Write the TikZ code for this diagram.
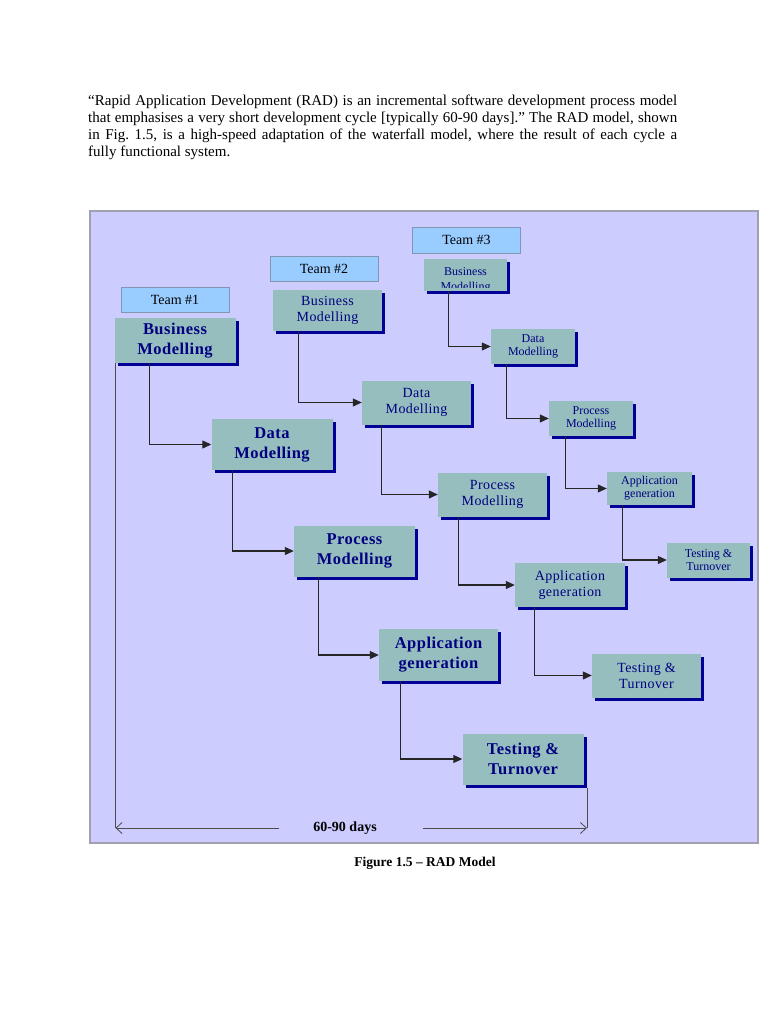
\documentclass[tikz,border=0pt]{standalone}
\usepackage{fontspec}
\setmainfont{Liberation Serif}
\usepackage{tikz}
\usetikzlibrary{shapes, arrows, arrows.meta, shadows}
\definecolor{panelfill}{RGB}{204,204,255}
\definecolor{paneledge}{RGB}{160,160,176}
\definecolor{boxfill}{RGB}{150,190,190}
\definecolor{boxshadow}{RGB}{0,0,150}
\definecolor{boxtext}{RGB}{0,0,128}
\definecolor{teamfill}{RGB}{153,204,255}
\definecolor{teamedge}{RGB}{130,150,180}
\tikzstyle{phaseone} = [rectangle, fill=boxfill, text=boxtext, align=center, inner sep=0pt, minimum width=121pt, minimum height=51pt, font=\fontsize{16.5}{20}\selectfont\bfseries\addfontfeature{LetterSpace=3}, general shadow={fill=boxshadow, shadow xshift=3pt, shadow yshift=-3pt}]
\tikzstyle{phasetwo} = [rectangle, fill=boxfill, text=boxtext, align=center, inner sep=0pt, minimum width=109pt, minimum height=44pt, font=\fontsize{14}{16}\selectfont\addfontfeature{LetterSpace=3}, general shadow={fill=boxshadow, shadow xshift=3pt, shadow yshift=-3pt}]
\tikzstyle{phasethree} = [rectangle, fill=boxfill, text=boxtext, align=center, inner sep=0pt, minimum width=84pt, minimum height=35pt, font=\fontsize{12}{13}\selectfont, general shadow={fill=boxshadow, shadow xshift=3pt, shadow yshift=-3pt}]
\tikzstyle{phasethreetext} = [text=boxtext, align=center, inner sep=0pt, font=\fontsize{12}{15}\selectfont]
\tikzstyle{teamlabel} = [rectangle, fill=teamfill, draw=teamedge, line width=0.7pt, minimum width=108pt, minimum height=25pt, inner sep=0pt, font=\fontsize{14}{15}\selectfont]
\tikzstyle{connector} = [draw, color=black!85, line width=1.1pt, -{Triangle[length=9pt, width=8pt]}]
\tikzstyle{dimline} = [draw, color=black!70, line width=0.8pt]
\tikzstyle{dimarrow} = [dimline, -{Straight Barb[length=6pt, width=11pt]}]

\begin{document}
\begin{tikzpicture}[x=1pt, y=-1pt]
\useasboundingbox (0,0) rectangle (768,1024);
\fill[white] (0,0) rectangle (768,1024);

\node [anchor=north west, text width=589pt, align=justify, inner sep=0pt, font=\fontsize{15}{17}\selectfont\frenchspacing] at (88,95) (intro) {“Rapid Application Development (RAD) is an incremental software development process model\linebreak that emphasises a very short development cycle [typically 60-90 days].” The RAD model, shown\linebreak in Fig. 1.5, is a high-speed adaptation of the waterfall model, where the result of each cycle a\linebreak fully functional system.};

% panel
\draw [fill=panelfill, draw=paneledge, line width=1.2pt] (90,211) rectangle (758,843);

% team labels
\node [teamlabel] at (175,299.5) (team1) {Team \#1};
\node [teamlabel] at (324,269) (team2) {Team \#2};
\node [teamlabel, minimum height=26pt] at (466.5,240) (team3) {Team \#3};

% team 1
\node [phaseone, minimum height=45pt] at (175,340.5) (bm1) {Business\\Modelling};
\node [phaseone] at (272,444.5) (dm1) {Data\\Modelling};
\node [phaseone] at (354.5,551) (pm1) {Process\\Modelling};
\node [phaseone, minimum width=119pt, minimum height=52pt] at (438.5,655) (ag1) {Application\\generation};
\node [phaseone] at (523,759) (tt1) {Testing \&\\Turnover};

% team 2
\node [phasetwo, minimum height=41pt] at (327.5,310.5) (bm2) {Business\\Modelling};
\node [phasetwo] at (416.5,402.5) (dm2) {Data\\Modelling};
\node [phasetwo] at (492.5,494.5) (pm2) {Process\\Modelling};
\node [phasetwo, minimum width=110pt] at (570,585) (ag2) {Application\\generation};
\node [phasetwo] at (646.5,675.5) (tt2) {Testing \&\\Turnover};

% team 3
\node [phasethree, minimum width=83pt, minimum height=32pt] at (465.5,275) (bm3) {};
\begin{scope}
\clip ([yshift=3.5pt]bm3.south west) rectangle (bm3.north east);
\node [phasethreetext, anchor=north] at (465.5,267) (bm3text) {Business\\Modelling};
\end{scope}
\node [phasethree] at (533,346.5) (dm3) {Data\\Modelling};
\node [phasethree] at (591,418.5) (pm3) {Process\\Modelling};
\node [phasethree, minimum width=85pt, minimum height=33pt] at (649.5,488.5) (ag3) {Application\\generation};
\node [phasethree, minimum width=83pt] at (708.5,560) (tt3) {Testing \&\\Turnover};

\path [connector] ([xshift=35pt]bm1.south west) |- (dm1.west);
\path [connector] ([xshift=21pt]dm1.south west) |- (pm1.west);
\path [connector] ([xshift=25pt]pm1.south west) |- (ag1.west);
\path [connector] ([xshift=22pt]ag1.south west) |- (tt1.west);

\path [connector] ([xshift=26pt]bm2.south west) |- (dm2.west);
\path [connector] ([xshift=20pt]dm2.south west) |- (pm2.west);
\path [connector] ([xshift=20.5pt]pm2.south west) |- (ag2.west);
\path [connector] ([xshift=20pt]ag2.south west) |- (tt2.west);

\path [connector] ([xshift=24.5pt]bm3.south west) |- (dm3.west);
\path [connector] ([xshift=16pt]dm3.south west) |- (pm3.west);
\path [connector] ([xshift=16.5pt]pm3.south west) |- (ag3.west);
\path [connector] ([xshift=15.5pt]ag3.south west) |- (tt3.west);

% cycle length
\coordinate (dimL) at (115.5,828);
\coordinate (dimR) at (587,828);
\coordinate (gapL) at (279,828);
\coordinate (gapR) at (423,828);
\node [font=\fontsize{14}{16}\selectfont\bfseries, inner sep=0pt] at (345,828) (days) {60-90 days};
\path [dimline] (bm1.south -| dimL) -- (dimL);
\path [dimline] ([yshift=-3pt]tt1.south -| dimR) -- (dimR);
\path [dimarrow] (gapL) -- (dimL);
\path [dimarrow] (gapR) -- (dimR);

\node [font=\fontsize{13.5}{16}\selectfont\bfseries, inner sep=0pt] at (425,863) (figcap) {Figure 1.5 – RAD Model};
\end{tikzpicture}
\end{document}
